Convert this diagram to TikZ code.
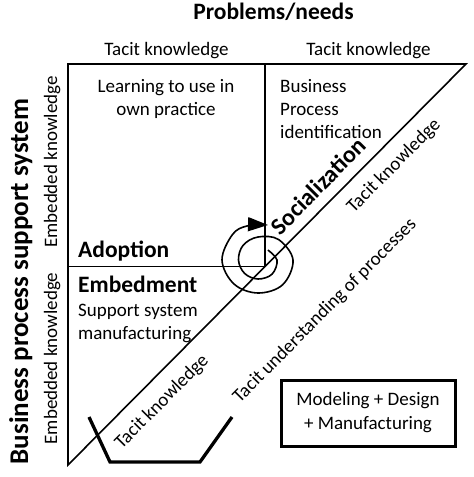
\documentclass[tikz,border=0pt]{standalone}
\usepackage{fontspec}
\setmainfont{Carlito}
\usetikzlibrary{arrows.meta}
\begin{document}
\begin{tikzpicture}[x=1pt,y=1pt,
  frameline/.style={line width=1.6pt, line join=miter},
  heavyline/.style={line width=3.3pt, line join=miter},
  txt/.style={font=\fontsize{19}{23}\selectfont, inner sep=0pt},
  boldtxt/.style={font=\fontsize{23.5}{27}\selectfont\bfseries, inner sep=0pt},
  boxnode/.style={draw, line width=3pt, minimum width=174pt, minimum height=66pt, align=center, inner sep=0pt, font=\fontsize{19}{24}\selectfont}
]
\useasboundingbox (0,0) rectangle (474,-477);
% frame coordinates
\coordinate (TL) at (68,-64);
\coordinate (TR) at (466,-64);
\coordinate (BL) at (68,-465);
\coordinate (TM) at (265,-64);
\coordinate (C) at (265,-266.5);
\coordinate (ML) at (68,-266.5);
\draw[frameline] (TR) -- (TL) -- (BL) -- cycle;
\draw[frameline] (TM) -- (C) -- (ML);

% titles
\node[boldtxt, anchor=base] (prob) at (273.5,-19) {Problems/needs};
\node[boldtxt, font=\fontsize{27}{30}\selectfont\bfseries, rotate=90, anchor=base] (bpss) at (28,-281.5) {Business process support system};

% headings
\node[txt, anchor=base] (tk1) at (166.5,-55) {Tacit knowledge};
\node[txt, anchor=base] (tk2) at (368.5,-55) {Tacit knowledge};
\node[txt, rotate=90, anchor=base] (ek1) at (57,-162) {Embedded knowledge};
\node[txt, rotate=90, anchor=base] (ek2) at (57,-358.5) {Embedded knowledge};

% quadrant texts (base anchor = last line's baseline)
\node[txt, align=center, anchor=base] (learn) at (166,-115) {Learning to use in\\own practice};
\node[txt, align=left, anchor=base west] (bpi) at (280,-138) {Business\\Process\\identification};
\node[boldtxt, anchor=base west] (adopt) at (78,-257) {Adoption};
\node[boldtxt, anchor=base west] (embed) at (78,-292) {Embedment};
\node[txt, align=left, anchor=base west] (ssm) at (78,-339) {Support system\\manufacturing};

% diagonal texts
\node[boldtxt, font=\fontsize{24}{27}\selectfont\bfseries, rotate=45.2] (soc) at (318,-186) {Socialization};
\node[txt, rotate=45.2] (tk3) at (394,-166) {Tacit knowledge};
\node[txt, rotate=45.2] (tup) at (325,-311) {Tacit understanding of processes};
\node[txt, rotate=45.2] (tk4) at (162,-402) {Tacit knowledge};

% box
\node[boxnode] (box) at (368,-413) {Modeling + Design\\+ Manufacturing};

% bucket
\draw[heavyline] (89,-417) -- (110,-462) -- (200,-462) -- (232,-417);

% spiral
\draw[line width=1.6pt, -{Triangle[length=20pt,width=14pt]}] plot[smooth, tension=0.6] coordinates {
(267.9,-250.1) (277,-260) (272.1,-274.1) (258,-279) (244.6,-273.4) (238.5,-260)
(243.2,-245.2) (258,-237) (278.5,-239.5) (293,-260) (282.7,-284.7) (258,-293)
(234,-284) (222,-260) (232.5,-234.5) (247,-226) (268,-225)};
\end{tikzpicture}
\end{document}
